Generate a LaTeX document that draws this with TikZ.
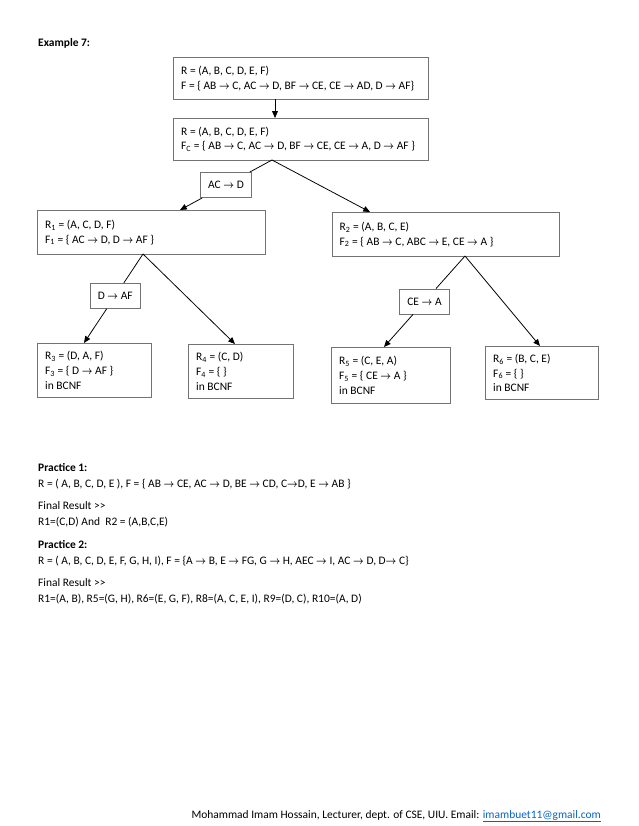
\documentclass[tikz,border=0pt]{standalone}
\usepackage{amsmath}
\usepackage{graphicx}
\usepackage{fontspec}
\setmainfont{Carlito}
\usetikzlibrary{arrows.meta,positioning}
\definecolor{mailblue}{HTML}{0563C1}
\newcommand\dep{\scalebox{0.82}[1]{$\boldsymbol{\rightarrow}$}}
\newcommand\fsz{\fontsize{11}{14}\selectfont}
\tikzset{
  blk/.style 2 args={draw=edge,line width=0.75pt,inner sep=0pt,anchor=north west,
    minimum width=#1*0.96pt,minimum height=#2*0.96pt},
  txt/.style={inner sep=0pt,align=left,font=\fsz},
  lbl/.style={draw=edge,line width=0.75pt,fill=white,inner xsep=7.5pt,
    minimum height=24pt,font=\fsz},
  conn/.style={line width=0.75pt,-{Triangle[length=6.5pt,width=5.5pt]}}
}

\begin{document}
\begin{tikzpicture}[x=0.96pt,y=-0.96pt]
    \colorlet{edge}{black!55}
    \useasboundingbox (0,0) rectangle (638,826);

    \node [txt,anchor=base west] (ex7) at (38,47) {\bfseries Example 7:};

    % boxes of the decomposition tree
    \node [blk={255}{42}] (b1) at (173,57) {};
    \node [blk={255}{42}] (b2) at (173,118) {};
    \node [blk={228}{44}] (r1) at (37,210) {};
    \node [blk={227}{44}] (r2) at (332,212) {};
    \node [blk={114}{54}] (r3) at (37,343) {};
    \node [blk={105}{54}] (r4) at (188,344) {};
    \node [blk={119}{56}] (r5) at (331,347) {};
    \node [blk={113}{53}] (r6) at (485,346) {};

    \node [txt,right=7.7pt of b1.west] (b1t)
        {R = (A, B, C, D, E, F)\\
         F = \{ AB \dep{} C, AC \dep{} D, BF \dep{} CE, CE \dep{} AD, D \dep{} AF\}};
    \node [txt,right=7.7pt of b2.west] (b2t)
        {R = (A, B, C, D, E, F)\\
         F\textsubscript{C} = \{ AB \dep{} C, AC \dep{} D, BF \dep{} CE, CE \dep{} A, D \dep{} AF \}};
    \node [txt,right=7.7pt of r1.west] (r1t)
        {R\textsubscript{1} = (A, C, D, F)\\
         F\textsubscript{1} = \{ AC \dep{} D, D \dep{} AF \}};
    \node [txt,right=7.2pt of r2.west] (r2t)
        {R\textsubscript{2} = (A, B, C, E)\\
         F\textsubscript{2} = \{ AB \dep{} C, ABC \dep{} E, CE \dep{} A \}};
    \node [txt,right=7.7pt of r3.west] (r3t)
        {R\textsubscript{3} = (D, A, F)\\F\textsubscript{3} = \{ D \dep{} AF \}\\in BCNF};
    \node [txt,right=7.7pt of r4.west] (r4t)
        {R\textsubscript{4} = (C, D)\\F\textsubscript{4} = \{ \}\\in BCNF};
    \node [txt,right=7.7pt of r5.west] (r5t)
        {R\textsubscript{5} = (C, E, A)\\F\textsubscript{5} = \{ CE \dep{} A \}\\in BCNF};
    \node [txt,right=7.7pt of r6.west] (r6t)
        {R\textsubscript{6} = (B, C, E)\\F\textsubscript{6} = \{ \}\\in BCNF};

    % split points and arrow ends
    \coordinate (s1) at (275,99);
    \coordinate (e1) at (275,118);
    \coordinate (s2) at (272,160);
    \coordinate (t1) at (180,210);
    \coordinate (t2) at (370,212);
    \coordinate (s3) at (143,254);
    \coordinate (t3) at (84,343);
    \coordinate (t4) at (235,344);
    \coordinate (s4) at (465,256);
    \coordinate (t5) at (384,347);
    \coordinate (t6) at (540,346);

    \path (s2) -- (t1) node [lbl,pos=0.5] (lAC) {AC \dep{} D};
    \path (s3) -- (t3) node [lbl,pos=0.47] (lD) {D \dep{} AF};
    \path (s4) -- (t5) node [lbl,pos=0.5] (lCE) {CE \dep{} A};

    \draw [conn] (s1) -- (e1);
    \draw [conn] (s2) -- (lAC) -- (t1);
    \draw [conn] (s2) -- (t2);
    \draw [conn] (s3) -- (lD) -- (t3);
    \draw [conn] (s3) -- (t4);
    \draw [conn] (s4) -- (lCE) -- (t5);
    \draw [conn] (s4) -- (t6);

    % practice part
    \node [txt,anchor=base west] (p1h) at (38,471) {\bfseries Practice 1:};
    \node [txt,anchor=base west] (p1r) at (38,487)
        {R = ( A, B, C, D, E ), F = \{ AB \dep{} CE, AC \dep{} D, BE \dep{} CD, C\dep{}D, E \dep{} AB \}};
    \node [txt,anchor=base west] (p1f) at (38,509) {Final Result >\kern0pt>};
    \node [txt,anchor=base west] (p1s) at (38,525) {R1=(C,D) And~~R2 = (A,B,C,E)};
    \node [txt,anchor=base west] (p2h) at (38,548) {\bfseries Practice 2:};
    \node [txt,anchor=base west] (p2r) at (38,564)
        {R = ( A, B, C, D, E, F, G, H, I), F = \{A \dep{} B, E \dep{} FG, G \dep{} H, AEC \dep{} I, AC \dep{} D, D\dep{} C\}};
    \node [txt,anchor=base west] (p2f) at (38,586) {Final Result >\kern0pt>};
    \node [txt,anchor=base west] (p2s) at (38,602)
        {R1=(A, B), R5=(G, H), R6=(E, G, F), R8=(A, C, E, I), R9=(D, C), R10=(A, D)};

    \node [txt,anchor=base east] (foot) at (601,818)
        {Mohammad Imam Hossain, Lecturer, dept. of CSE, UIU. Email: \textcolor{mailblue}{\underline{imambuet11@gmail.com}}};
\end{tikzpicture}
\end{document}
